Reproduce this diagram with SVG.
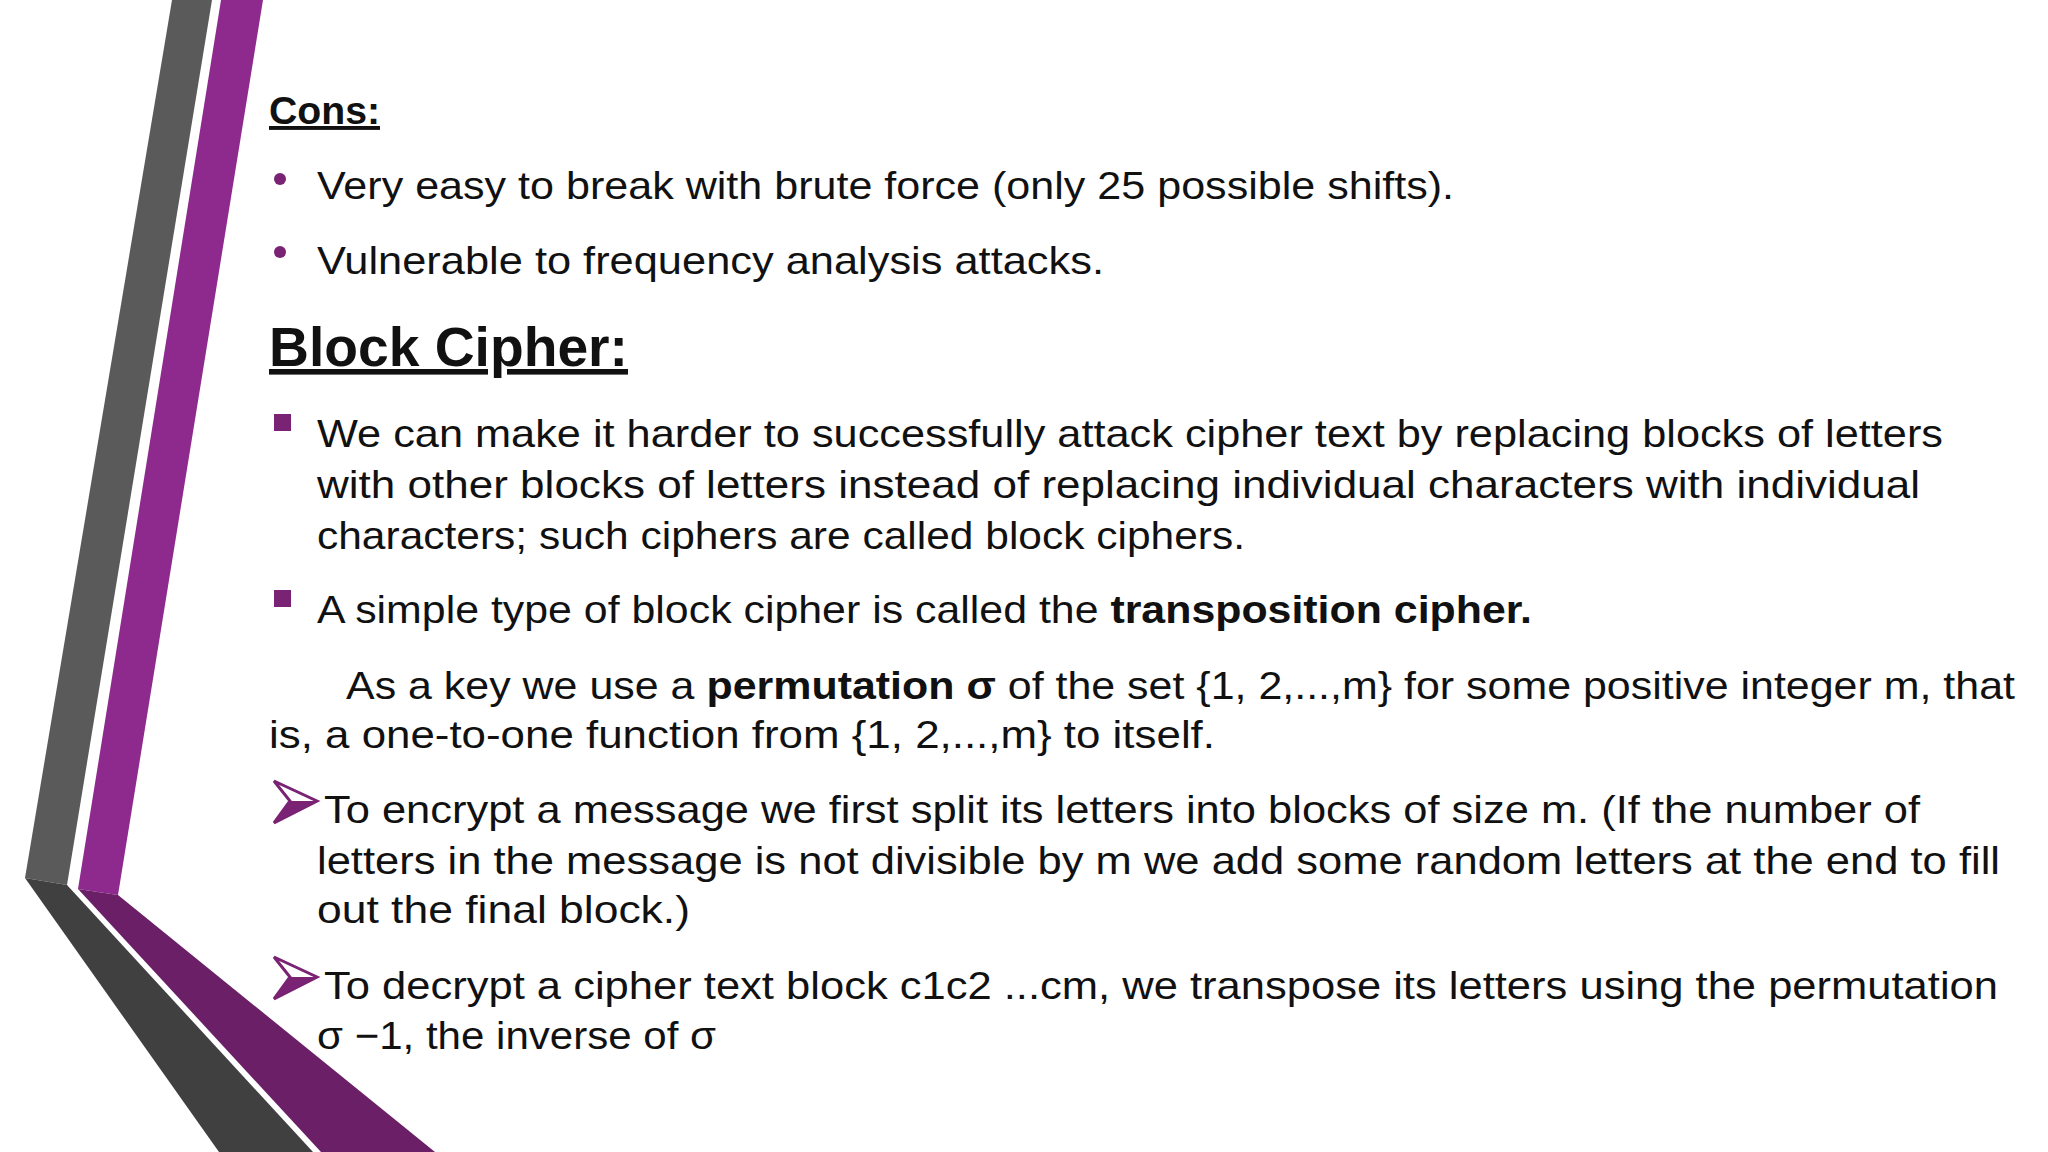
<svg xmlns="http://www.w3.org/2000/svg" width="2048" height="1152" viewBox="0 0 2048 1152">
<style>
.t{font-family:"Liberation Sans",Arial,sans-serif;font-size:39px;fill:#111}
.b{font-weight:bold}
.p{fill:#7a2274}
</style>
<rect width="2048" height="1152" fill="#fff"/>
<g id="decor">
<polygon points="172,0 212,0 67,885 25,878" fill="#5a5a5a"/>
<polygon points="25,878 67,885 313,1152 219,1152" fill="#404040"/>
<polygon points="221,0 263,0 118,895 78,889" fill="#8e2a8e"/>
<polygon points="78,889 118,895 435,1152 321,1152" fill="#6a1f66"/>
</g>
<g id="cons">
<text class="t b" x="269" y="124" textLength="111" lengthAdjust="spacingAndGlyphs" text-decoration="underline">Cons:</text>
<circle class="p" cx="280" cy="179" r="6"/>
<text class="t" x="317" y="199" textLength="1137" lengthAdjust="spacingAndGlyphs">Very easy to break with brute force (only 25 possible shifts).</text>
<circle class="p" cx="280" cy="252" r="6"/>
<text class="t" x="317" y="274" textLength="787" lengthAdjust="spacingAndGlyphs">Vulnerable to frequency analysis attacks.</text>
</g>
<g id="block">
<text class="t b" x="269" y="366" font-size="56" textLength="359" lengthAdjust="spacingAndGlyphs" text-decoration="underline" style="font-size:56px">Block Cipher:</text>
<rect class="p" x="274" y="414" width="17" height="17"/>
<text class="t" x="317" y="447" textLength="1626" lengthAdjust="spacingAndGlyphs">We can make it harder to successfully attack cipher text by replacing blocks of letters</text>
<text class="t" x="317" y="498" textLength="1603" lengthAdjust="spacingAndGlyphs">with other blocks of letters instead of replacing individual characters with individual</text>
<text class="t" x="317" y="549" textLength="928" lengthAdjust="spacingAndGlyphs">characters; such ciphers are called block ciphers.</text>
<rect class="p" x="274" y="590" width="17" height="17"/>
<text class="t" x="317" y="623" textLength="1215" lengthAdjust="spacingAndGlyphs">A simple type of block cipher is called the <tspan class="b">transposition cipher.</tspan></text>
<text class="t" x="346" y="699" textLength="1669" lengthAdjust="spacingAndGlyphs">As a key we use a <tspan class="b">permutation σ</tspan> of the set {1, 2,...,m} for some positive integer m, that</text>
<text class="t" x="269" y="748" textLength="946" lengthAdjust="spacingAndGlyphs">is, a one-to-one function from {1, 2,...,m} to itself.</text>
</g>
<g id="steps">
<polygon points="274,781 317,801 274,823 290,801" fill="#fff" stroke="#7a2274" stroke-width="3"/>
<polygon points="290,801 317,801 274,823" fill="#7a2274"/>
<text class="t" x="324" y="823" textLength="1596" lengthAdjust="spacingAndGlyphs">To encrypt a message we first split its letters into blocks of size m. (If the number of</text>
<text class="t" x="317" y="874" textLength="1683" lengthAdjust="spacingAndGlyphs">letters in the message is not divisible by m we add some random letters at the end to fill</text>
<text class="t" x="317" y="923" textLength="373" lengthAdjust="spacingAndGlyphs">out the final block.)</text>
<polygon points="274,957 317,977 274,999 290,977" fill="#fff" stroke="#7a2274" stroke-width="3"/>
<polygon points="290,977 317,977 274,999" fill="#7a2274"/>
<text class="t" x="324" y="999" textLength="1674" lengthAdjust="spacingAndGlyphs">To decrypt a cipher text block c1c2 ...cm, we transpose its letters using the permutation</text>
<text class="t" x="317" y="1049" textLength="399" lengthAdjust="spacingAndGlyphs">σ −1, the inverse of σ</text>
</g>
</svg>
